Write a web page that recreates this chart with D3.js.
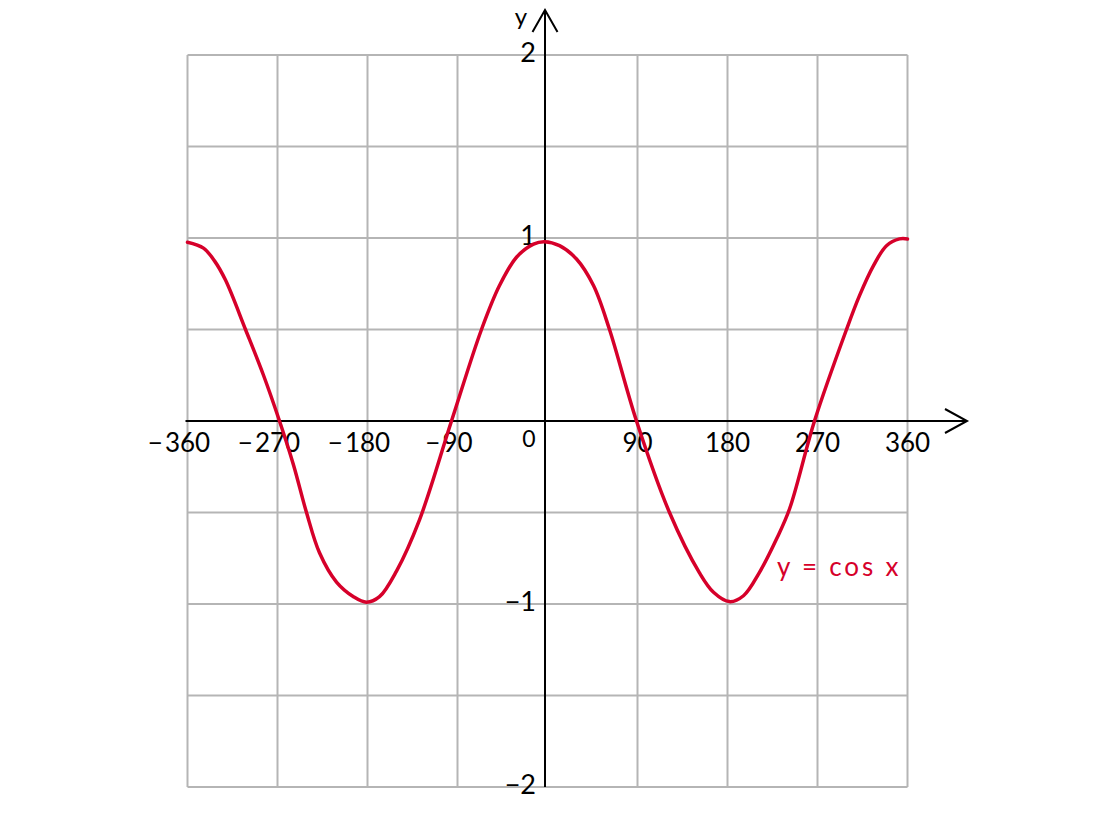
<!DOCTYPE html>
<html>
<head>
<meta charset="utf-8">
<script src="https://cdn.jsdelivr.net/npm/d3@7"></script>
<style>
  body { margin: 0; background: #fff; }
  text { font-family: Lato, "Open Sans", sans-serif; }
</style>
</head>
<body>
<div id="chart"></div>
<script>
// degrees and cos values
var xDeg = [-360, -344, -333, -322, -302, -284, -268, -254, -241, -228, -211, -194, -181, -168, -151, -128,
            -96, -66, -48, -31, -14, -3, 12, 29, 46, 62, 89, 122, 152, 166, 182,
            196, 212, 229, 242, 267, 299, 312, 326, 339, 352, 360];
var yVal = [0.977, 0.945, 0.875, 0.77, 0.5, 0.25, 0, -0.24, -0.5, -0.72, -0.88, -0.96, -0.99, -0.96, -0.82, -0.54,
            0, 0.5, 0.74, 0.895, 0.967, 0.98, 0.958, 0.885, 0.74, 0.5, 0, -0.5, -0.83, -0.936, -0.987,
            -0.955, -0.827, -0.645, -0.481, 0, 0.5, 0.685, 0.849, 0.958, 0.995, 0.995];

var xTicks = [-360, -270, -180, -90, 90, 180, 270, 360];
var yTicks = [-2, -1, 1, 2];
var gridX = [-360, -270, -180, -90, 90, 180, 270, 360];
var gridY = [-2, -1.5, -1, -0.5, 0.5, 1, 1.5, 2];

var width = 1100, height = 824;

var svg = d3.select('#chart')
    .append('svg')
    .attr('width', width)
    .attr('height', height);

svg.append('rect').attr('width', width).attr('height', height).attr('fill', '#fff');

var x = d3.scaleLinear().domain([-360, 360]).range([187.5, 907.5]);
var y = d3.scaleLinear().domain([-2, 2]).range([787, 55]);

var axisX = x(0) - 2.5;   // y axis sits a touch left of centre

// grid
svg.append('g')
    .selectAll('line')
    .data(gridX)
    .enter()
    .append('line')
    .attr('x1', d => x(d)).attr('x2', d => x(d))
    .attr('y1', y(2)).attr('y2', y(-2))
    .attr('stroke', '#b5b5b5')
    .attr('stroke-width', 2);

svg.append('g')
    .selectAll('line')
    .data(gridY)
    .enter()
    .append('line')
    .attr('x1', x(-360)).attr('x2', x(360))
    .attr('y1', d => y(d)).attr('y2', d => y(d))
    .attr('stroke', '#b5b5b5')
    .attr('stroke-width', 2);

// axes
svg.append('line')
    .attr('x1', x(-360) - 2).attr('x2', 967)
    .attr('y1', y(0)).attr('y2', y(0))
    .attr('stroke', '#000').attr('stroke-width', 2);

svg.append('path')
    .attr('d', `M945,${y(0) - 12}L967,${y(0)}L945,${y(0) + 12}`)
    .attr('fill', 'none').attr('stroke', '#000').attr('stroke-width', 2);

svg.append('line')
    .attr('x1', axisX).attr('x2', axisX)
    .attr('y1', y(-2)).attr('y2', 10)
    .attr('stroke', '#000').attr('stroke-width', 2);

svg.append('path')
    .attr('d', `M${axisX - 12.5},32L${axisX},10L${axisX + 12.5},32`)
    .attr('fill', 'none').attr('stroke', '#000').attr('stroke-width', 2);

// x tick labels: digits centred on the grid line, minus hangs to the left
var xl = svg.append('g');
xTicks.forEach(function (t) {
    var digits = xl.append('text')
        .attr('x', x(t))
        .attr('y', 452)
        .attr('text-anchor', 'middle')
        .attr('font-size', 26)
        .attr('fill', '#000')
        .text(Math.abs(t));
    if (t < 0) {
        var w = digits.node().getComputedTextLength();
        xl.append('text')
            .attr('x', x(t) - w / 2 - 2)
            .attr('y', 452)
            .attr('text-anchor', 'end')
            .attr('font-size', 26)
            .attr('fill', '#000')
            .text('\u2212');
    }
});

// y tick labels
svg.append('g')
    .selectAll('text')
    .data(yTicks)
    .enter()
    .append('text')
    .attr('x', axisX - 9)
    .attr('y', d => y(d) + 7)
    .attr('text-anchor', 'end')
    .attr('font-size', 27)
    .attr('fill', '#000')
    .text(d => d < 0 ? '\u2212' + Math.abs(d) : d);

svg.append('text')
    .attr('x', 529).attr('y', 447)
    .attr('text-anchor', 'middle')
    .attr('font-size', 23)
    .text('0');

svg.append('text')
    .attr('x', 521).attr('y', 25)
    .attr('text-anchor', 'middle')
    .attr('font-size', 24)
    .text('y');

// the curve
var pts = xDeg.map((d, i) => [d, yVal[i]]);

var line = d3.line()
    .x(d => x(d[0]))
    .y(d => y(d[1]))
    .curve(d3.curveCatmullRom.alpha(0.5));

svg.append('path')
    .datum(pts)
    .attr('d', line)
    .attr('fill', 'none')
    .attr('stroke', '#d6002a')
    .attr('stroke-width', 3.5)
    .attr('stroke-linecap', 'round');

svg.append('text')
    .attr('x', 777).attr('y', 576)
    .attr('font-size', 26)
    .attr('letter-spacing', 2.8)
    .attr('fill', '#d6002a')
    .text('y = cos x');
</script>
</body>
</html>
